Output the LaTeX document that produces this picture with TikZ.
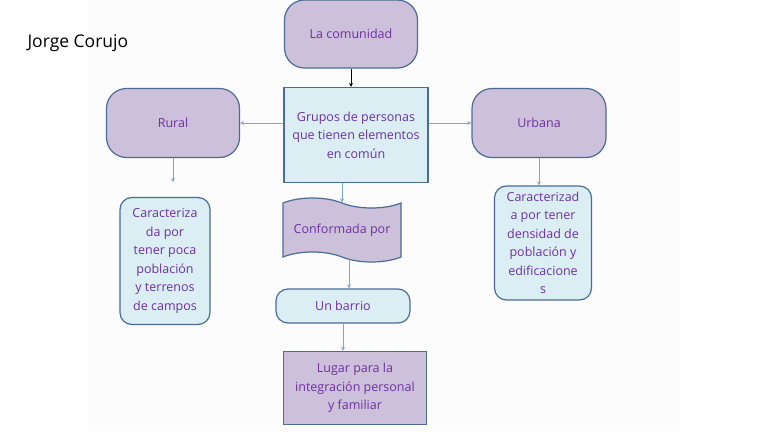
\documentclass[tikz,border=0pt]{standalone}
\usepackage{fontspec}
\setmainfont{Open Sans}
\usetikzlibrary{shapes.symbols,arrows.meta}
\definecolor{lila}{HTML}{CCC0DA}
\definecolor{celeste}{HTML}{DAEEF3}
\definecolor{borde}{HTML}{4A6C96}
\definecolor{texto}{HTML}{7030A0}
\definecolor{flecha}{HTML}{7FA6C8}
\tikzset{
  caja/.style={draw=borde,line width=1.2pt,text=texto,align=center,font=\fontsize{12.5}{18.5}\selectfont,inner sep=2pt},
  morado/.style={caja,fill=lila},
  claro/.style={caja,fill=celeste},
  redondo/.style={rounded corners=20pt},
  enlace/.style={draw=flecha,line width=0.8pt,-{Stealth[length=4pt,width=4pt]}}
}
\begin{document}
\begin{tikzpicture}[x=1pt,y=-1pt]
\useasboundingbox (0,0) rectangle (768,431);
\fill[white] (0,0) rectangle (768,431);
\fill[black!1] (88,0) rectangle (680,431);
\node[anchor=west,font=\fontsize{17.5}{20}\selectfont] (autor) at (24,43) {Jorge Corujo};
% nodos
\node[morado,redondo,minimum width=133pt,minimum height=68pt] (comunidad) at (351,34) {La comunidad};
\node[claro,minimum width=144pt,minimum height=95pt] (grupos) at (356,135) {Grupos de personas\\que tienen elementos\\en común};
\node[morado,redondo,minimum width=133pt,minimum height=69pt] (rural) at (173,123) {Rural};
\node[morado,redondo,minimum width=134pt,minimum height=69pt] (urbana) at (539,123) {Urbana};
\node[claro,rounded corners=12pt,minimum width=90pt,minimum height=127pt] (ruraltxt) at (165,261) {Caracteriza\\da por\\tener poca\\población\\y terrenos\\de campos};
\node[claro,rounded corners=12pt,minimum width=97pt,minimum height=114pt] (urbanatxt) at (543,243) {Caracterizad\\a por tener\\densidad de\\población y\\edificacione\\s};
\node[morado,tape,tape bend top=out and in,tape bend bottom=out and in,tape bend height=10pt,minimum width=118pt,minimum height=64pt] (conformada) at (342,230) {Conformada por};
\node[claro,rounded corners=12pt,minimum width=134pt,minimum height=34pt] (barrio) at (343,306) {Un barrio};
\node[morado,minimum width=143pt,minimum height=73pt] (lugar) at (355,388) {Lugar para la\\integración personal\\y familiar};
% conectores
\draw[line width=0.8pt,-{Stealth[length=4pt,width=4pt]}] (comunidad.south) -- (comunidad.south|-grupos.north);
\draw[enlace] (grupos.west|-rural.east) -- (rural.east);
\draw[enlace] (grupos.east|-urbana.west) -- (urbana.west);
\draw[enlace] (rural.south) -- ++(0,24);
\draw[enlace] (urbana.south) -- (urbana.south|-urbanatxt.north);
\draw[enlace] (grupos.south-|conformada.north) -- (conformada.north);
\draw[enlace] ([xshift=7pt]conformada.south) -- ([xshift=7pt]conformada.south|-barrio.north);
\draw[enlace] (barrio.south) -- (barrio.south|-lugar.north);
\end{tikzpicture}
\end{document}
